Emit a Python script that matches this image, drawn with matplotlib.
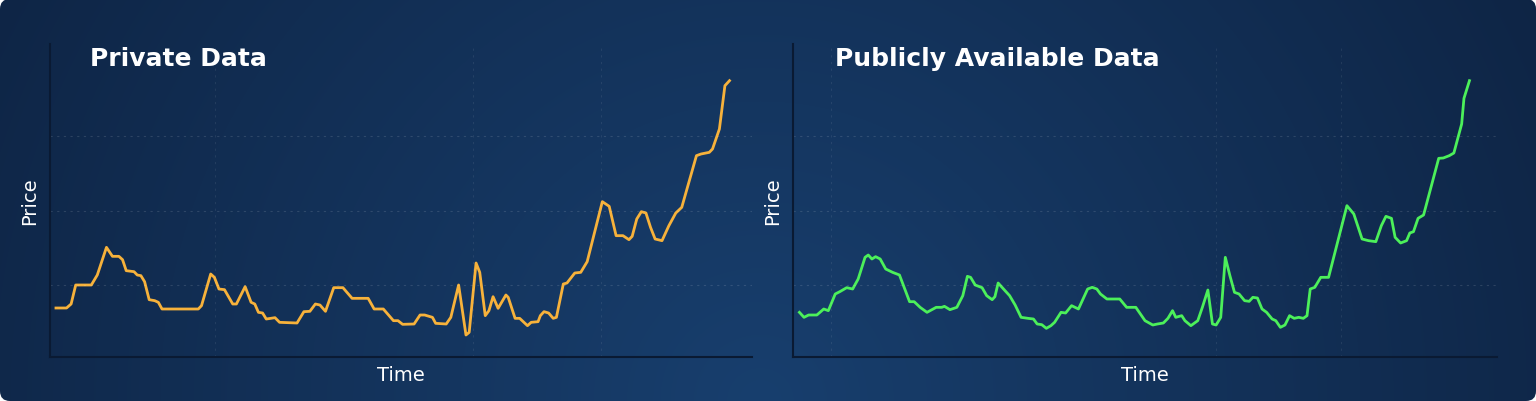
import matplotlib
matplotlib.use("Agg")
import matplotlib.pyplot as plt
import numpy as np
from matplotlib.patches import FancyBboxPatch

left_time = [35,58,68,78,112,125,145,158,172,180,188,205,212,220,228,238,250,258,266,345,352,372,380,390,402,420,428,447,460,468,476,485,493,503,512,522,560,575,588,600,610,622,640,660,680,715,728,748,770,780,790,815,828,838,855,862,885,895,912,928,935,950,958,970,978,987,998,1015,1020,1035,1045,1062,1070,1085,1090,1098,1108,1118,1125,1140,1148,1165,1178,1192,1225,1240,1255,1270,1283,1290,1300,1310,1320,1330,1340,1355,1370,1385,1398,1430,1440,1458,1465,1480,1492,1502]
left_pos = [747,747,735,678,678,648,565,592,592,602,635,638,648,650,668,722,725,730,750,750,740,645,655,690,692,735,735,683,730,735,760,762,780,778,776,790,792,758,757,735,738,757,686,686,718,718,750,750,785,785,796,795,768,768,775,793,795,775,678,828,820,612,640,770,755,713,748,708,715,778,778,800,790,788,770,758,762,778,775,675,672,642,640,608,428,442,530,530,542,532,480,458,462,505,540,545,500,462,445,290,285,280,270,210,80,65]
left_price = [900 - v for v in left_pos]

right_time = [42,52,62,80,95,105,120,130,145,158,170,185,192,200,208,218,230,245,260,282,292,305,320,340,352,358,370,385,398,408,415,425,440,450,462,468,475,490,500,512,525,540,552,560,570,580,590,598,612,622,635,650,670,680,690,698,712,740,755,775,795,812,822,835,845,855,862,875,882,895,910,920,932,942,950,960,970,980,990,1000,1012,1022,1030,1040,1050,1060,1072,1080,1090,1100,1110,1120,1130,1140,1148,1155,1165,1178,1195,1235,1250,1268,1282,1298,1310,1320,1332,1340,1352,1365,1372,1380,1390,1402,1435,1445,1458,1468,1485,1490,1502]
right_pos = [760,775,768,768,750,755,705,698,686,690,660,595,588,600,593,600,630,640,648,728,728,745,760,745,745,742,752,745,710,652,655,678,686,710,722,713,672,695,710,738,775,778,780,795,797,808,800,790,760,762,740,750,690,685,690,705,720,720,745,745,785,798,795,792,778,755,775,770,785,800,785,745,693,795,798,775,595,650,700,705,725,727,715,717,750,760,780,785,805,798,770,778,775,778,770,690,685,655,655,440,465,540,545,548,500,472,478,535,552,545,522,518,478,468,298,297,290,282,195,118,65]
right_price = [900 - v for v in right_pos]

titles = ["Private Data", "Publicly Available Data"]
colors = ["#f7b23b", "#4cf05a"]

fig = plt.figure(figsize=(15.36, 4.02), dpi=100)
fig.patch.set_facecolor("white")
bg = fig.add_axes([0, 0, 1, 1])
bg.set_xlim(0, 1536); bg.set_ylim(402, 0); bg.axis("off")
yy, xx = np.mgrid[0:402, 0:1536]
d = np.hypot(xx - 760, yy - 402) / 900
img = np.clip(1 - d, 0, 1)
c0 = np.array([0x0e, 0x24, 0x44]) / 255
c1 = np.array([0x18, 0x3f, 0x6e]) / 255
rgb = c0[None, None, :] + (c1 - c0)[None, None, :] * img[..., None]
im = bg.imshow(rgb, extent=(0, 1536, 402, 0), aspect="auto")
clip = FancyBboxPatch((0, 0), 1536, 402, boxstyle="round,pad=0,rounding_size=10",
                      transform=bg.transData, facecolor="none", edgecolor="none")
bg.add_patch(clip)
im.set_clip_path(clip)

fam = ["DejaVu Sans Condensed", "Liberation Sans Narrow", "DejaVu Sans"]
specs = [
    (left_time, left_price, 50, 752, 22, 1551, [382, 943, 1222]),
    (right_time, right_price, 793, 1497, 28, 1562, [110, 950, 1222]),
]
for i, (t, p, x0, x1, t0, t1, vg) in enumerate(specs):
    ax = fig.add_axes([x0 / 1536, (402 - 358) / 402, (x1 - x0) / 1536, (358 - 45) / 402])
    ax.patch.set_alpha(0)
    ax.set_xlim(t0, t1)
    ax.set_ylim(6, 945)
    ax.plot(t, p, color=colors[i], lw=2)
    for g in [222, 445, 668]:
        ax.axhline(g, color="white", alpha=0.12, lw=0.8, ls=(0, (2, 4)))
    for g in vg:
        ax.axvline(g, color="white", alpha=0.08, lw=0.8, ls=(0, (2, 4)))
    ax.set_xticks([]); ax.set_yticks([])
    for s in ["top", "right"]:
        ax.spines[s].set_visible(False)
    for s in ["left", "bottom"]:
        ax.spines[s].set_color("#0a1a33"); ax.spines[s].set_linewidth(1.5)
    ax.set_xlabel("Time", color="white", fontsize=14, family=fam, labelpad=6)
    ax.set_ylabel("Price", color="white", fontsize=14, family=fam, labelpad=8)
    ax.text(0.057 if i == 0 else 0.06, 0.955, titles[i], transform=ax.transAxes, color="white",
            fontsize=18, fontweight="bold", family=fam, va="center")

fig.savefig("out.png", dpi=100, facecolor="white")
